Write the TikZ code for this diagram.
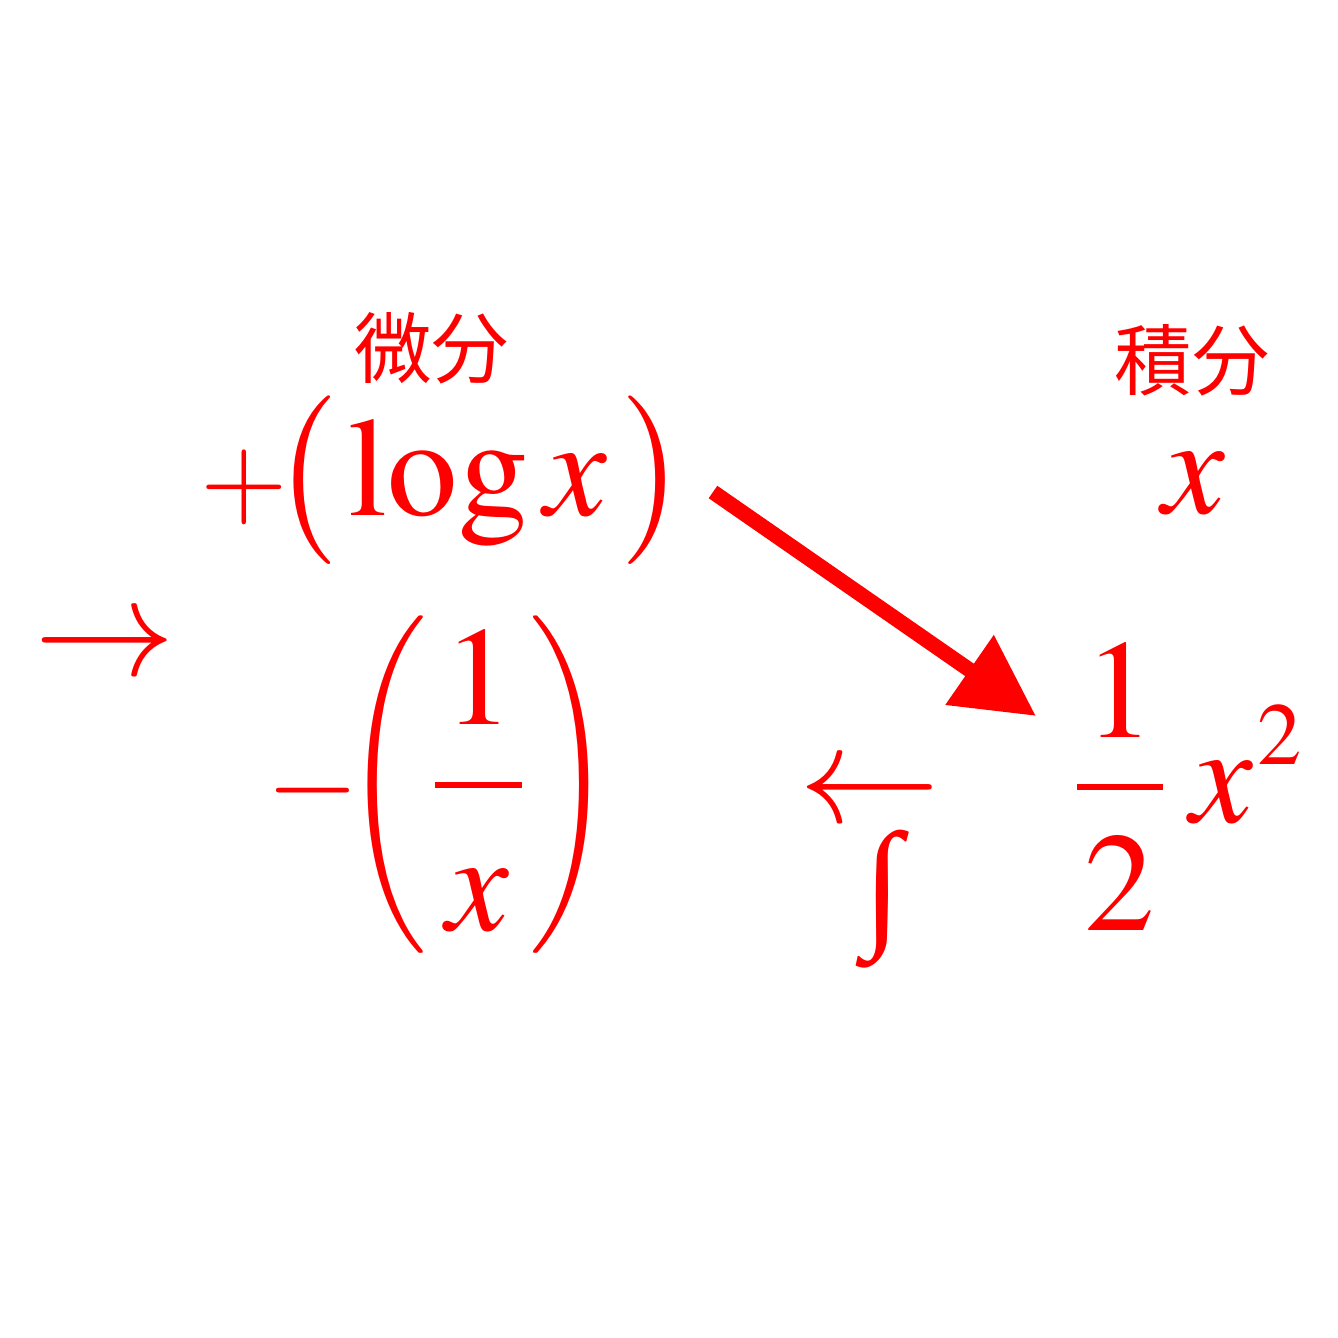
\documentclass[tikz,border=0pt]{standalone}
\usepackage{mathptmx}
\usepackage[no-math]{fontspec}
\usepackage{graphicx}
\newfontfamily\cjkfont{Noto Sans CJK JP}
\newfontfamily\serifglyph{Liberation Serif}
\usetikzlibrary{arrows.meta,positioning}

\begin{document}
\begin{tikzpicture}[x=0.01cm, y=-0.01cm,
    every node/.style={text=red, inner sep=0pt},
    mathterm/.style={font=\fontsize{40}{48}\selectfont},
    intglyph/.style={font=\serifglyph\fontsize{40}{48}\selectfont},
    kanji/.style={font=\cjkfont\fontsize{22}{26}\selectfont}]
    \useasboundingbox (0,0) rectangle (1338,1338);

    %Labels
    \node[kanji] (diff_label)  at (432,348)  {微分};
    \node[kanji] (integ_label) at (1192,360) {積分};

    %Terms
    \node[mathterm] (log_term)    at (444,480)  {$\scalebox{0.8}{$+$}\mkern-2mu\bigl(\mkern1.5mu\log x\mkern2mu\bigr)$};
    \node[mathterm] (recip_term)  at (439,785)  {$\scalebox{0.85}{$-$}\hspace{-4pt}%
        \scalebox{0.8}[1]{$\left(\vphantom{\displaystyle\frac{1}{x}}\right.$}%
        {\displaystyle\frac{1}{\vphantom{x}\smash{\raisebox{-4pt}{$\displaystyle\mkern1.5mu x\mkern1.5mu$}}}}%
        \scalebox{0.8}[1]{$\left.\vphantom{\displaystyle\frac{1}{x}}\right)$}$};
    \node[mathterm, anchor=base] (x_term) at (1194,513) {$x$};
    \node[mathterm] (square_term) at (1188,776) {$\displaystyle\frac{\vphantom{1}\smash{\raisebox{-2.8pt}{$1$}}}{\vphantom{2}\smash{\raisebox{-3.4pt}{$\mkern1mu 2\mkern1mu$}}}\mkern3mu x^{\mkern0.6mu\scalebox{0.85}{$\scriptstyle 2$}}$};

    %Symbols
    \node[mathterm] (right_sym) at (105,650) {$\rightarrow$};
    \node[mathterm] (left_sym)  at (870,797) {$\leftarrow$};
    \node[intglyph] (int_sym)   at (883,899) {∫};

    %Big arrow
    \coordinate (arrow_start) at (713,492);
    \coordinate (arrow_tip)   at (1036,716);
    \draw[red, line width=4.3pt, -{Triangle[length=23pt, width=23pt]}] (arrow_start) -- (arrow_tip);
\end{tikzpicture}
\end{document}
